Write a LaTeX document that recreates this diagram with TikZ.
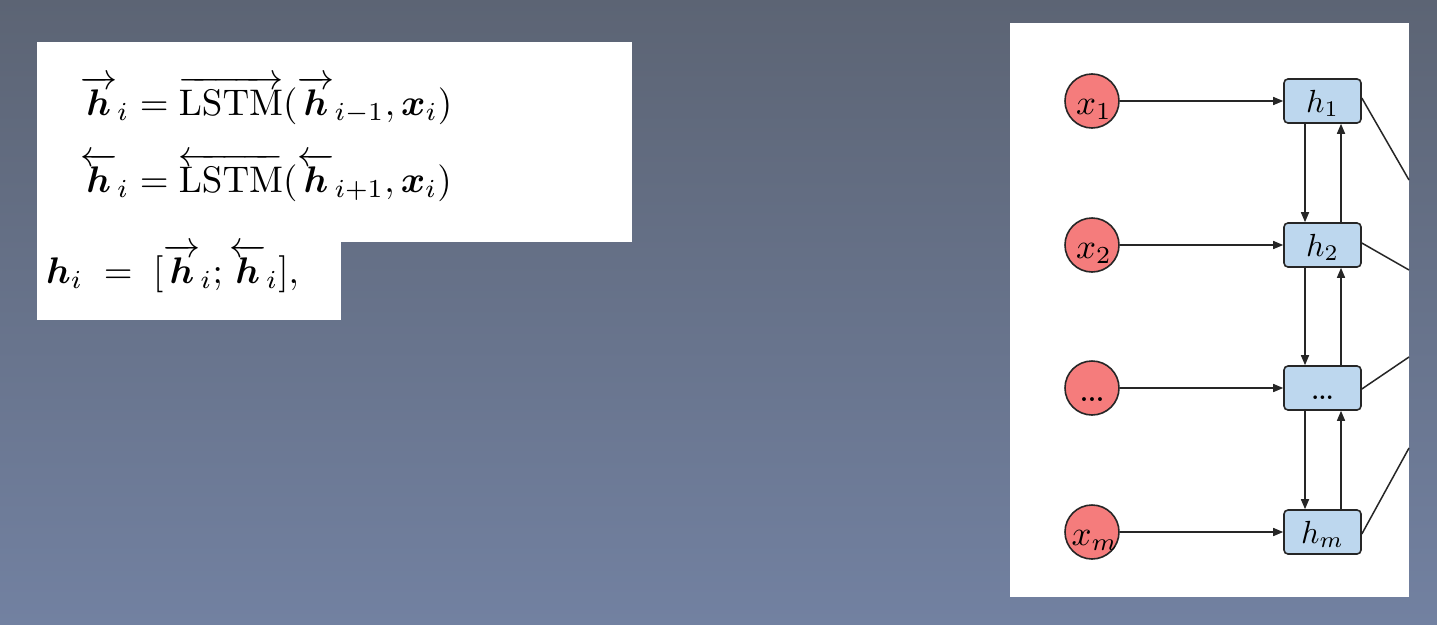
\documentclass[tikz,border=0pt]{standalone}
\usepackage{graphicx}
\usepackage{amsmath,bm}
\usetikzlibrary{arrows.meta}
\definecolor{bgtop}{RGB}{92,100,116}
\definecolor{bgbot}{RGB}{114,129,161}
\definecolor{xred}{RGB}{245,124,124}
\definecolor{hblue}{RGB}{189,215,238}
\definecolor{edge}{RGB}{38,38,38}
\newcommand{\eqs}[1]{\scalebox{3.7}{#1}}
\newcommand{\xs}[2][0pt]{\makebox[28pt][c]{\hspace*{#1}\scalebox{3.5}{#2}}}
\newcommand{\hs}[1]{\scalebox{3.2}{#1}}
\newcommand{\mydots}[1][2.5]{\scalebox{#1}{\bfseries ...}}
\tikzset{
  eq/.style={anchor=base west,inner sep=0pt},
  xnode/.style={circle,draw=edge,fill=xred,line width=1.6pt,minimum size=54pt,inner sep=0pt,text height=26pt,text depth=0pt},
  hnode/.style={rectangle,rounded corners=4pt,draw=edge,fill=hblue,line width=1.6pt,minimum width=77pt,minimum height=44pt,inner sep=0pt,text height=22pt,text depth=0pt},
  arr/.style={-{Triangle[length=10pt,width=8pt]},line width=1.5pt,draw=edge},
  ln/.style={line width=1.5pt,draw=edge}
}
\begin{document}
\begin{tikzpicture}[x=1pt,y=-1pt]
\shade[top color=bgtop,bottom color=bgbot] (0,0) rectangle (1437,624);
\useasboundingbox (0,0) rectangle (1437,624);
% white panels
\fill[white] (37,42) rectangle (632,242);
\fill[white] (37,242) rectangle (341,320);
\fill[white] (1010,23) rectangle (1409,597);
% equations
\node[eq] (e1) at (80,115) {\eqs{$\overrightarrow{\bm h}_i = \overrightarrow{\mathrm{LSTM}}(\overrightarrow{\bm h}_{i-1}, \bm x_i)$}};
\node[eq] (e2) at (80,192) {\eqs{$\overleftarrow{\bm h}_i = \overleftarrow{\mathrm{LSTM}}(\overleftarrow{\bm h}_{i+1}, \bm x_i)$}};
\node[eq] (e3) at (46,283) {\eqs{$\bm h_i \;=\; [\overrightarrow{\bm h}_i; \overleftarrow{\bm h}_i],$}};
% diagram nodes
\node[xnode] (x1) at (1092,101) {\xs[4pt]{$x_1$}};
\node[xnode] (x2) at (1092,245) {\xs[4pt]{$x_2$}};
\node[xnode] (x3) at (1092,388) {\mydots};
\node[xnode] (xm) at (1092,532) {\xs[6pt]{$x_m$}};
\node[hnode] (h1) at (1322.5,101) {\hs{$h_1$}};
\node[hnode] (h2) at (1322.5,245) {\hs{$h_2$}};
\node[hnode] (h3) at (1322.5,388) {\mydots[2.3]};
\node[hnode] (hm) at (1322.5,532) {\hs{$h_m$}};
% input arrows
\draw[arr] (x1) -- (h1);
\draw[arr] (x2) -- (h2);
\draw[arr] (x3) -- (h3);
\draw[arr] (xm) -- (hm);
% forward (down) arrows
\draw[arr] ([xshift=-17.5pt]h1.south) -- ([xshift=-17.5pt]h2.north);
\draw[arr] ([xshift=-17.5pt]h2.south) -- ([xshift=-17.5pt]h3.north);
\draw[arr] ([xshift=-17.5pt]h3.south) -- ([xshift=-17.5pt]hm.north);
% backward (up) arrows
\draw[arr] ([xshift=18.5pt]h2.north) -- ([xshift=18.5pt]h1.south);
\draw[arr] ([xshift=18.5pt]h3.north) -- ([xshift=18.5pt]h2.south);
\draw[arr] ([xshift=18.5pt]hm.north) -- ([xshift=18.5pt]h3.south);
% outgoing lines (cut at panel edge)
\coordinate (o1) at (1409,180);
\coordinate (o2) at (1409,270);
\coordinate (o3) at (1409,357);
\coordinate (om) at (1409,448);
\draw[ln] ([yshift=3pt]h1.east) -- (o1);
\draw[ln] ([yshift=2pt]h2.east) -- (o2);
\draw[ln] ([yshift=-1pt]h3.east) -- (o3);
\draw[ln] ([yshift=-2pt]hm.east) -- (om);
\end{tikzpicture}
\end{document}
